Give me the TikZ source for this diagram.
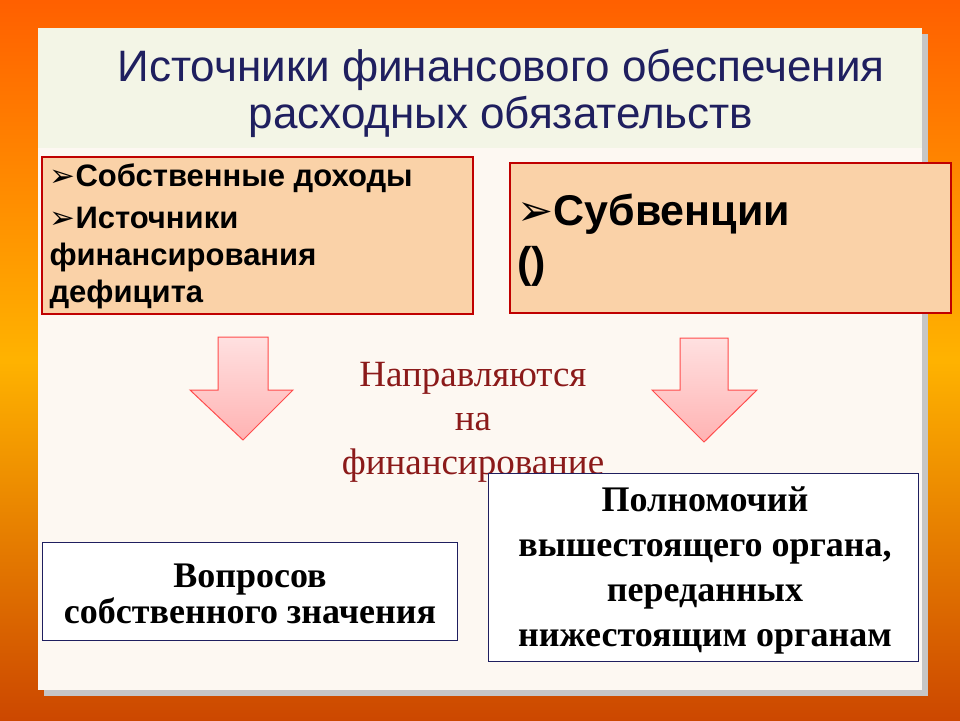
\documentclass[tikz,border=0pt]{standalone}
\usepackage{fontspec}
\setmainfont{Liberation Sans}
\newfontfamily\serifr{Liberation Serif}
\newfontfamily\dv{DejaVu Sans}
\definecolor{peach}{HTML}{FAD2A8}
\definecolor{bred}{HTML}{C00000}
\definecolor{navy}{HTML}{1F1F5F}
\definecolor{dred}{HTML}{8B1A1A}
\definecolor{titlebg}{HTML}{F3F5E6}
\definecolor{panel}{HTML}{FDF8F2}
\tikzset{x=1pt,y=-1pt,
 srcbox/.style={draw=bred,line width=2.5pt,fill=peach},
 tgtbox/.style={draw=navy,line width=1pt,fill=white},
 downarrow/.style={draw=red!70!white,line width=1pt,top color=red!12,bottom color=red!30}}
\begin{document}
\begin{tikzpicture}
\useasboundingbox (0,0) rectangle (960,720);
\shade[top color=orange!75!red, bottom color=orange!70!red!80!black, middle color=orange!60!yellow] (0,0) rectangle (960,720);
\fill[gray!45] (44,34) rectangle (928,696);
\fill[panel] (38,28) rectangle (922,690);
\fill[titlebg] (38,28) rectangle (922,148);
\node[font=\fontsize{44}{47}\selectfont, text=navy, align=center] (title) at (501,93) {Источники финансового обеспечения\\расходных обязательств};
\draw[srcbox] (42,157) rectangle (473,314);
\node[anchor=north west, align=left, font=\fontsize{31}{37}\selectfont\bfseries] (t1) at (46,160)
 {{\dv➢}Собственные доходы\\[5pt]{\dv➢}Источники\\финансирования\\дефицита};
\draw[srcbox] (510,163) rectangle (951,313);
\node[anchor=north west, align=left, font=\fontsize{43}{52}\selectfont\bfseries] (t2) at (514,190) {{\dv➢}Субвенции\\()};
\draw[downarrow] (218,337) -- (268,337) -- (268,390) -- (293,390) -- (243,440) -- (190,390) -- (218,390) -- cycle;
\draw[downarrow] (680,338) -- (728,338) -- (728,390) -- (757,390) -- (704,442) -- (652,390) -- (680,390) -- cycle;
\node[font=\serifr\fontsize{37}{44}\selectfont, text=dred, align=center] (mid) at (473,422) {Направляются\\на\\финансирование};
\draw[tgtbox] (42,542) rectangle (457,640);
\node[font=\serifr\bfseries\fontsize{36}{36}\selectfont, align=center] (b3) at (250,594) {Вопросов\\собственного значения};
\draw[tgtbox] (488,473) rectangle (918,661);
\node[font=\serifr\bfseries\fontsize{36}{45}\selectfont, align=center] (b4) at (705,570) {Полномочий\\ вышестоящего органа,\\переданных\\нижестоящим органам};
\end{tikzpicture}
\end{document}
